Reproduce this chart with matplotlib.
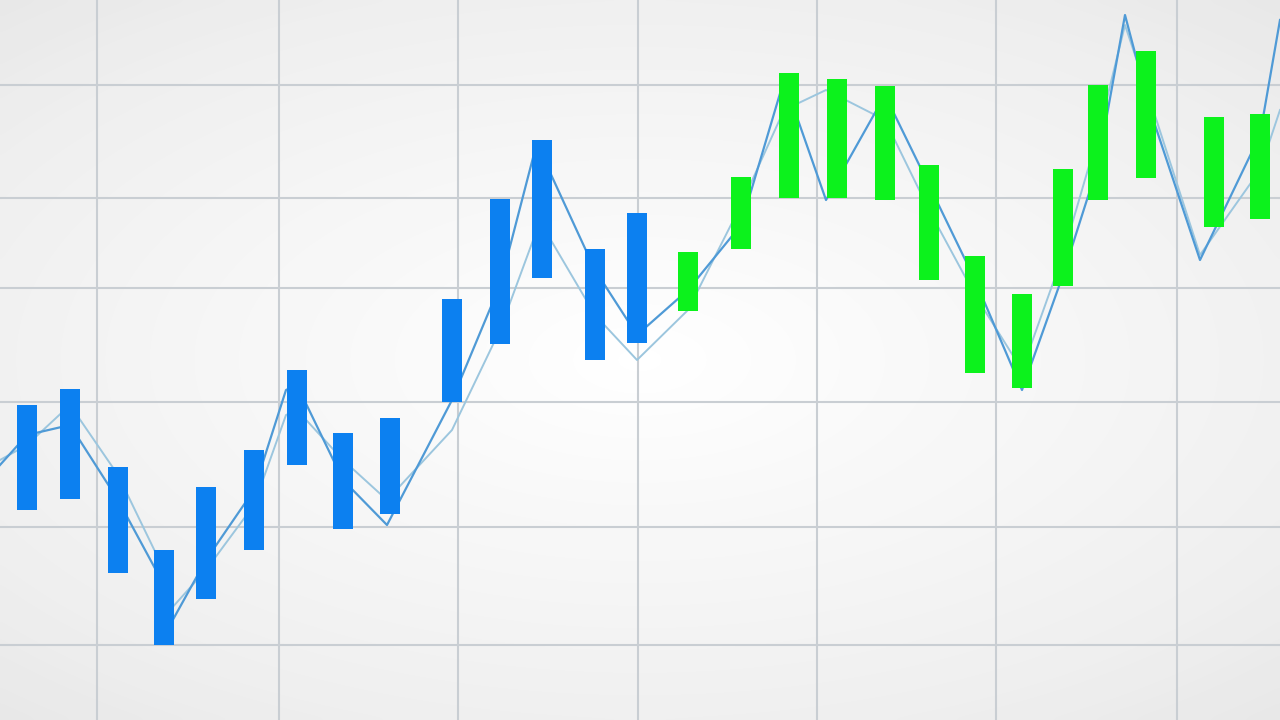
import numpy as np
import matplotlib.pyplot as plt

# bar positions (time) and body ranges (price)
blue_x = [2.7, 7.0, 11.8, 16.4, 20.6, 25.4, 29.7, 34.3, 39.0, 45.2, 50.0, 54.2, 59.5, 63.7]
blue_top = [31.5, 33.1, 25.3, 17.0, 23.3, 27.0, 35.0, 28.7, 30.2, 42.1, 52.1, 58.0, 47.1, 50.7]
blue_bot = [21.0, 22.1, 14.7, 7.5, 12.1, 17.0, 25.5, 19.1, 20.6, 31.8, 37.6, 44.2, 36.0, 37.7]

green_x = [68.8, 74.1, 78.9, 83.7, 88.5, 92.9, 97.5, 102.2, 106.3, 109.8, 114.6, 121.4, 126.0]
green_top = [46.8, 54.3, 64.7, 64.1, 63.4, 55.5, 46.4, 42.6, 55.1, 63.5, 66.9, 60.3, 60.6]
green_bot = [40.9, 47.1, 52.2, 52.2, 52.0, 44.0, 34.7, 33.2, 43.4, 52.0, 54.2, 49.3, 50.1]

# moving lines
line_x = [0.0, 2.7, 7.0, 11.8, 16.4, 17.0, 20.6, 25.4, 28.6, 29.7, 34.3, 38.7, 45.2, 50.0,
          53.5, 54.2, 59.5, 63.7, 68.8, 74.1, 78.4, 82.6, 88.5, 92.9, 97.5, 102.2, 106.3,
          109.8, 112.5, 115.0, 120.0, 126.0, 128.0]
line_a = [25.5, 28.5, 29.5, 22.0, 13.5, 9.5, 16.0, 23.0, 33.0, 33.5, 24.0, 19.5, 32.0, 43.5,
          57.0, 56.5, 45.0, 38.5, 43.0, 49.5, 64.0, 52.0, 62.5, 53.5, 44.0, 33.0, 44.5,
          55.5, 70.5, 61.0, 46.0, 58.5, 70.0]
line_b = [26.0, 27.5, 31.5, 24.5, 15.0, 11.0, 15.0, 21.5, 30.5, 31.0, 26.0, 22.0, 29.0, 39.0,
          48.5, 49.5, 40.5, 36.0, 41.0, 51.5, 61.0, 63.0, 60.0, 51.0, 42.5, 35.0, 46.5,
          58.5, 69.5, 62.0, 46.5, 55.0, 61.0]

grid_x = [9.7, 27.9, 45.8, 63.8, 81.7, 99.6, 117.7]
grid_y = [7.5, 19.3, 31.8, 43.2, 52.2, 63.5]

fig = plt.figure(figsize=(12.8, 7.2), dpi=100)
ax = fig.add_axes([0, 0, 1, 1])

# soft vignette background
gx, gy = np.meshgrid(np.linspace(-1, 1, 256), np.linspace(-1, 1, 144))
bg = np.sqrt(gx ** 2 * 0.8 + gy ** 2)
ax.imshow(bg, extent=[0, 128, 0, 72], cmap="Greys", vmin=0, vmax=8,
          aspect="auto", zorder=0, interpolation="bicubic")

ax.set_xlim(0, 128)
ax.set_ylim(0, 72)
ax.set_xticks(grid_x)
ax.set_yticks(grid_y)
ax.grid(True, color="#c9ced3", linewidth=1.5, zorder=1)
ax.tick_params(length=0, labelbottom=False, labelleft=False)
for s in ax.spines.values():
    s.set_visible(False)

ax.plot(line_x, line_b, color="#9cc6de", linewidth=1.4, zorder=2)
ax.plot(line_x, line_a, color="#4f9ad6", linewidth=1.6, zorder=2)

ax.bar(blue_x, np.array(blue_top) - np.array(blue_bot), bottom=blue_bot,
       width=2.0, color="#0c80f0", zorder=3)
ax.bar(green_x, np.array(green_top) - np.array(green_bot), bottom=green_bot,
       width=2.0, color="#0cf21c", zorder=3)

fig.savefig("out.png", dpi=100)
